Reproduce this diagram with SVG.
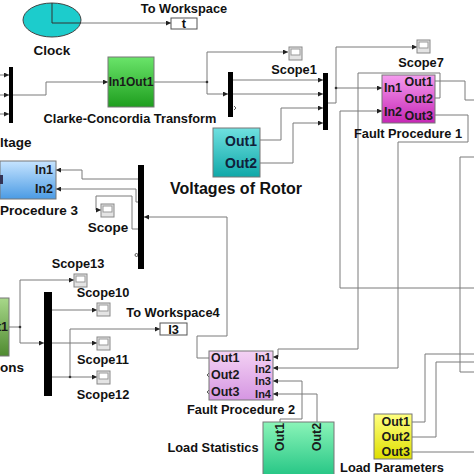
<svg xmlns="http://www.w3.org/2000/svg" width="474" height="474" viewBox="0 0 474 474">
<defs>
<style>
.w{fill:none;stroke:#7a7a7a;stroke-width:1}
.lbl{font-family:"Liberation Sans",Arial,sans-serif;font-weight:bold;font-size:12.8px;fill:#111}
.pt{font-family:"Liberation Sans",Arial,sans-serif;font-weight:bold;font-size:12.5px;fill:#1a1a1a}
.bar{fill:#000}
.blk{stroke:#777;stroke-width:1}
.scope .o{fill:#e4e4e4;stroke:#888}
.scope .i{fill:#fff;stroke:#999}
</style>
<marker id="ar" markerUnits="userSpaceOnUse" markerWidth="5" markerHeight="5" refX="5" refY="2.5" orient="auto"><path d="M0,0 L5,2.5 L0,5 Z" fill="#222"/></marker>
<linearGradient id="gClarke" x1="0" y1="0" x2="0" y2="1"><stop offset="0" stop-color="#6ae46a"/><stop offset="1" stop-color="#1f9e1f"/></linearGradient>
<linearGradient id="gRotor" x1="0" y1="0" x2="0" y2="1"><stop offset="0" stop-color="#6fe0e0"/><stop offset="1" stop-color="#10a8a8"/></linearGradient>
<linearGradient id="gFP1" x1="0" y1="0" x2="0" y2="1"><stop offset="0" stop-color="#f59cef"/><stop offset="1" stop-color="#c626b4"/></linearGradient>
<linearGradient id="gFP2" x1="0" y1="0" x2="0" y2="1"><stop offset="0" stop-color="#f4d2f4"/><stop offset="1" stop-color="#d596e2"/></linearGradient>
<linearGradient id="gFP3" x1="0" y1="0" x2="0" y2="1"><stop offset="0" stop-color="#c6e4ff"/><stop offset="1" stop-color="#4b9be4"/></linearGradient>
<linearGradient id="gLS" x1="0" y1="0" x2="0" y2="1"><stop offset="0" stop-color="#8af4b8"/><stop offset="1" stop-color="#22c483"/></linearGradient>
<linearGradient id="gLP" x1="0" y1="0" x2="0" y2="1"><stop offset="0" stop-color="#ffff80"/><stop offset="1" stop-color="#dede00"/></linearGradient>
<linearGradient id="gOns" x1="0" y1="0" x2="0" y2="1"><stop offset="0" stop-color="#a8d88a"/><stop offset="1" stop-color="#4f8a30"/></linearGradient>
<g id="scopeIcon" class="scope"><rect class="o" x="0" y="0" width="13" height="13"/><rect class="i" x="2" y="2" width="9" height="6"/></g>
</defs>
<rect width="474" height="474" fill="#fff"/>

<g id="connectors">
<path class="w" d="M81,23 H171" marker-end="url(#ar)"/>
<path class="w" d="M0,75 H9" marker-end="url(#ar)"/>
<path class="w" d="M0,95 H9" marker-end="url(#ar)"/>
<path class="w" d="M0,114 H9" marker-end="url(#ar)"/>
<path class="w" d="M13,95 H46 V82 H108" marker-end="url(#ar)"/>
<path class="w" d="M154,82 H207 V52 H288" marker-end="url(#ar)"/>
<path class="w" d="M207,82 V94 H228" marker-end="url(#ar)"/>
<path class="w" d="M233,80 H323" marker-end="url(#ar)"/>
<path class="w" d="M233,94 H323" marker-end="url(#ar)"/>
<path class="w" d="M260,140 H281 V108 H323" marker-end="url(#ar)"/>
<path class="w" d="M260,163 H293 V123 H323" marker-end="url(#ar)"/>
<path class="w" d="M328,103 H336 V47 H417" marker-end="url(#ar)"/>
<path class="w" d="M336,88 H382" marker-end="url(#ar)"/>
<path class="w" d="M474,288 H340 V111 H382" marker-end="url(#ar)"/>
<path class="w" d="M435,81 H465 V100 H474"/>
<path class="w" d="M435,98 H440 V73 H358 V349 H278 V357 H273" marker-end="url(#ar)"/>
<path class="w" d="M435,115 H468 V142 H398 V368 H273" marker-end="url(#ar)"/>
<path class="w" d="M474,157 H460 V372 H474"/>
<path class="w" d="M280,422 V419 H302 V381 H273" marker-end="url(#ar)"/>
<path class="w" d="M317,422 V394 H273" marker-end="url(#ar)"/>
<path class="w" d="M412,422 H425 V354 H474"/>
<path class="w" d="M412,437 H436 V362 H474"/>
<path class="w" d="M412,452 H474"/>
<path class="w" d="M209,358 H197 V336 H227 V217 H144" marker-end="url(#ar)"/>
<path class="w" d="M138,179 H82 V170 H56" marker-end="url(#ar)"/>
<path class="w" d="M138,202 H136 V189 H56" marker-end="url(#ar)"/>
<path class="w" d="M138,229 H132 V196 H96 V210 H101" marker-end="url(#ar)"/>
<path class="w" d="M9,327 H20 V280 H74" marker-end="url(#ar)"/>
<path class="w" d="M20,327 V343 H44" marker-end="url(#ar)"/>
<path class="w" d="M52,310 H97" marker-end="url(#ar)"/>
<path class="w" d="M52,343 H97" marker-end="url(#ar)"/>
<path class="w" d="M52,377 H97" marker-end="url(#ar)"/>
<path class="w" d="M70,377 V329 H160" marker-end="url(#ar)"/>
<g fill="#333">
<circle cx="207" cy="82" r="1.3"/>
<circle cx="336" cy="88" r="1.3"/>
<circle cx="20" cy="327" r="1.3"/>
<circle cx="70" cy="377" r="1.3"/>
</g>
<g fill="none" stroke="#333" stroke-width="0.8">
<path d="M234,106 L236,108 L234,110"/>
<path d="M209,373 L207,375 L209,377"/>
<path d="M209,390 L207,392 L209,394"/>
<circle cx="136.5" cy="255" r="1.5"/>
</g>
</g>

<g id="clock">
<ellipse cx="52" cy="20" rx="29" ry="17" fill="#1ccccc" stroke="#444"/>
<path d="M52,3 V23 H81" fill="none" stroke="#333"/>
<text class="lbl" x="52" y="55" text-anchor="middle" style="font-size:13.5px">Clock</text>
</g>

<g id="toWorkspace">
<rect x="171" y="18" width="26" height="11" fill="#fff" stroke="#555"/>
<text class="lbl" x="184" y="28" text-anchor="middle">t</text>
<text class="lbl" x="184" y="13" text-anchor="middle">To Workspace</text>
</g>

<g id="muxVoltage">
<rect class="bar" x="9" y="67" width="4" height="56"/>
<text class="lbl" x="0" y="147" style="font-size:13.5px">ltage</text>
</g>

<g id="clarke">
<rect class="blk" x="108" y="57" width="46" height="50" fill="url(#gClarke)"/>
<text class="pt" x="131" y="86" text-anchor="middle" style="font-size:12px">In1Out1</text>
<text class="lbl" x="130" y="123" text-anchor="middle">Clarke-Concordia Transform</text>
</g>

<g id="demux2"><rect class="bar" x="228" y="72" width="5" height="45"/></g>

<g id="scope1">
<use href="#scopeIcon" x="289" y="47"/>
<text class="lbl" x="294" y="74" text-anchor="middle">Scope1</text>
</g>

<g id="mux3"><rect class="bar" x="323" y="73" width="5" height="57"/></g>

<g id="rotor">
<rect class="blk" x="213" y="128" width="47" height="49" fill="url(#gRotor)"/>
<text class="pt" x="257" y="146" text-anchor="end" style="font-size:14px;fill:#10203a">Out1</text>
<text class="pt" x="257" y="168" text-anchor="end" style="font-size:14px;fill:#10203a">Out2</text>
<text class="lbl" x="236" y="194" text-anchor="middle" style="font-size:16px">Voltages of Rotor</text>
</g>

<g id="scope7">
<use href="#scopeIcon" x="417" y="40"/>
<text class="lbl" x="421" y="67" text-anchor="middle">Scope7</text>
</g>

<g id="fp1">
<rect class="blk" x="382" y="75" width="53" height="48" fill="url(#gFP1)"/>
<text class="pt" x="384" y="92">In1</text>
<text class="pt" x="384" y="116">In2</text>
<text class="pt" x="433" y="86" text-anchor="end">Out1</text>
<text class="pt" x="433" y="103" text-anchor="end">Out2</text>
<text class="pt" x="433" y="120" text-anchor="end">Out3</text>
<text class="lbl" x="408" y="138" text-anchor="middle">Fault Procedure 1</text>
</g>

<g id="fp3">
<rect class="blk" x="0" y="161" width="56" height="38" fill="url(#gFP3)"/>
<rect x="0" y="175" width="3" height="9" fill="#335"/>
<text class="pt" x="53" y="174" text-anchor="end">In1</text>
<text class="pt" x="53" y="193" text-anchor="end">In2</text>
<text class="lbl" x="0" y="215" style="font-size:13.5px">Procedure 3</text>
</g>

<g id="demux4"><rect class="bar" x="138" y="165" width="6" height="104"/></g>

<g id="scope">
<use href="#scopeIcon" x="101" y="204"/>
<text class="lbl" x="108" y="232" text-anchor="middle" style="font-size:13.5px">Scope</text>
</g>

<g id="scope13">
<use href="#scopeIcon" x="74" y="274"/>
<text class="lbl" x="78" y="268" text-anchor="middle">Scope13</text>
</g>

<g id="onsBlock">
<rect class="blk" x="-2" y="298" width="11" height="58" fill="url(#gOns)"/>
<text class="pt" x="8" y="331" text-anchor="end">t1</text>
<text class="lbl" x="0" y="372" style="font-size:13.5px">ons</text>
</g>

<g id="demux5"><rect class="bar" x="44" y="292" width="8" height="104"/></g>

<g id="scope10">
<use href="#scopeIcon" x="97" y="303"/>
<text class="lbl" x="103" y="297" text-anchor="middle">Scope10</text>
</g>
<g id="scope11">
<use href="#scopeIcon" x="97" y="337"/>
<text class="lbl" x="103" y="364" text-anchor="middle">Scope11</text>
</g>
<g id="scope12">
<use href="#scopeIcon" x="97" y="371"/>
<text class="lbl" x="103" y="399" text-anchor="middle">Scope12</text>
</g>

<g id="toWorkspace4">
<rect x="160" y="323" width="27" height="12" fill="#fff" stroke="#555"/>
<text class="lbl" x="173.5" y="333.5" text-anchor="middle">I3</text>
<text class="lbl" x="173" y="317" text-anchor="middle">To Workspace4</text>
</g>

<g id="fp2">
<rect class="blk" x="209" y="351" width="64" height="49" fill="url(#gFP2)"/>
<text class="pt" x="211" y="362">Out1</text>
<text class="pt" x="211" y="379">Out2</text>
<text class="pt" x="211" y="396">Out3</text>
<text class="pt" x="271" y="361" text-anchor="end" style="font-size:11px">In1</text>
<text class="pt" x="271" y="373" text-anchor="end" style="font-size:11px">In2</text>
<text class="pt" x="271" y="385" text-anchor="end" style="font-size:11px">In3</text>
<text class="pt" x="271" y="398" text-anchor="end" style="font-size:11px">In4</text>
<text class="lbl" x="241" y="414" text-anchor="middle">Fault Procedure 2</text>
</g>

<g id="loadStatistics">
<rect class="blk" x="263" y="422" width="71" height="56" fill="url(#gLS)"/>
<text class="pt" transform="translate(284,437) rotate(-90)" text-anchor="middle">Out1</text>
<text class="pt" transform="translate(321,437) rotate(-90)" text-anchor="middle">Out2</text>
<text class="lbl" x="213" y="452" text-anchor="middle">Load Statistics</text>
</g>

<g id="loadParameters">
<rect class="blk" x="374" y="414" width="38" height="45" fill="url(#gLP)"/>
<text class="pt" x="410" y="426" text-anchor="end">Out1</text>
<text class="pt" x="410" y="441" text-anchor="end">Out2</text>
<text class="pt" x="410" y="456" text-anchor="end">Out3</text>
<text class="lbl" x="392" y="472" text-anchor="middle">Load Parameters</text>
</g>
</svg>
